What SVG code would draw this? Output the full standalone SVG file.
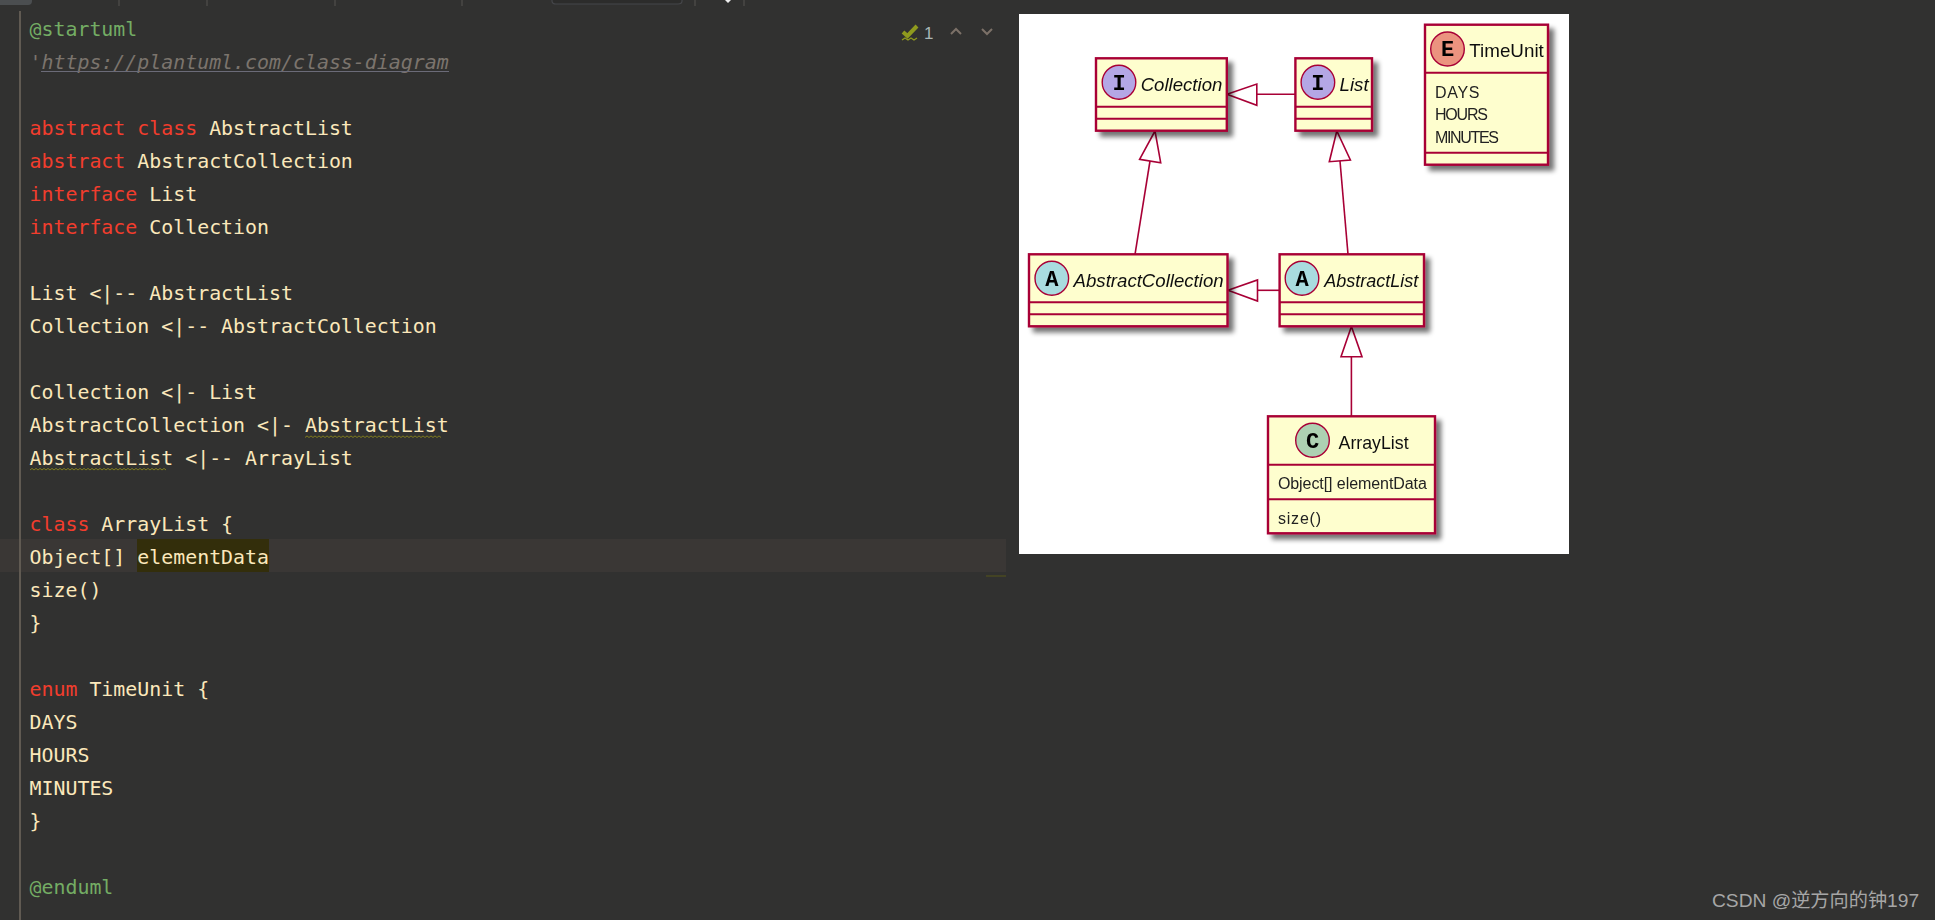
<svg xmlns="http://www.w3.org/2000/svg" width="1935" height="920" viewBox="0 0 1935 920">
<style>
.code{font-family:"DejaVu Sans Mono","Liberation Mono",monospace;font-size:19.9px;fill:#fbe8bb;white-space:pre}
.kw{fill:#f23d2d}
.ann{fill:#74ad64}
.cm{fill:#7b746d;font-style:italic}
.box{fill:#FEFECE;stroke:#A80036;stroke-width:2.4}
.sep{stroke:#A80036;stroke-width:1.9;fill:none}
.edge{stroke:#A80036;stroke-width:1.6;fill:none}
.head{stroke:#A80036;stroke-width:1.6;fill:#fff}
.ic{stroke:#A80036;stroke-width:1.4}
.name{font-family:"Liberation Sans",Arial,sans-serif;font-size:18.6px;fill:#111}
.it{font-style:italic}
.mem{font-family:"Liberation Sans",Arial,sans-serif;font-size:16px;fill:#222}
.let{font-family:"Liberation Mono","Courier New",monospace;font-weight:bold;font-size:22px;fill:#000;text-anchor:middle}
.wave{fill:none;stroke:#7f7c1e;stroke-width:1}
</style>
<defs>
<filter id="shadow" x="-15%" y="-15%" width="135%" height="135%">
<feGaussianBlur in="SourceAlpha" stdDeviation="2.6"/>
<feOffset dx="5" dy="5"/>
<feComponentTransfer><feFuncA type="linear" slope="0.55"/></feComponentTransfer>
<feMerge><feMergeNode/><feMergeNode in="SourceGraphic"/></feMerge>
</filter>
<filter id="soft" filterUnits="userSpaceOnUse" x="1019" y="14" width="550" height="540"><feGaussianBlur stdDeviation="0.6"/></filter>
<path id="w" d="M0 0l2 -1.6 2 1.6 2 -1.6 2 1.6 2 -1.6 2 1.6 2 -1.6 2 1.6 2 -1.6 2 1.6 2 -1.6 2 1.6 2 -1.6 2 1.6 2 -1.6 2 1.6 2 -1.6 2 1.6 2 -1.6 2 1.6 2 -1.6 2 1.6 2 -1.6 2 1.6 2 -1.6 2 1.6 2 -1.6 2 1.6 2 -1.6 2 1.6 2 -1.6 2 1.6 2 -1.6 2 1.6 2 -1.6 2 1.6 2 -1.6 2 1.6 2 -1.6 2 1.6 2 -1.6 2 1.6 2 -1.6 2 1.6 2 -1.6 2 1.6 2 -1.6 2 1.6 2 -1.6 2 1.6 2 -1.6 2 1.6 2 -1.6 2 1.6 2 -1.6 2 1.6 2 -1.6 2 1.6 2 -1.6 2 1.6 2 -1.6 2 1.6 2 -1.6 2 1.6 2 -1.6 2 1.6 2 -1.6 2 1.6"/>
</defs>
<rect width="1935" height="920" fill="#313130"/>
<g id="editor-chrome">
<rect x="-4" y="-6" width="36" height="11" rx="4" fill="#4b4e50"/>
<path d="M119 0V6M207 0V6M335 0V6M462 0V6M695 0V6M744 0V6" stroke="#4a4845" stroke-width="1.5"/>
<path d="M552 -2V1Q552 4 556 4H678Q682 4 682 1V-2" fill="#2c2c2b" stroke="#45464a" stroke-width="1.2"/>
<path d="M725 0H731L728 3Z" fill="#eee"/>
<rect x="0" y="539" width="1006" height="33" fill="#3a3735"/>
<rect x="137" y="539" width="132" height="33" fill="#332e0b"/>
<rect x="19" y="11" width="2" height="909" fill="#605a52"/>
<path d="M986 576H1006" stroke="#4a4a20" stroke-width="1.5"/>
<path d="M903 32L907.5 36L917 26" fill="none" stroke="#8f9a1e" stroke-width="4"/>
<path d="M902 40L905 38L908 40L911 38L914 40L917 38" fill="none" stroke="#8f9a1e" stroke-width="1.3"/>
<text x="924" y="39" font-family="'Liberation Sans',sans-serif" font-size="17" fill="#a9b7b6">1</text>
<path d="M951 34L956 29L961 34M982 29L987 34L992 29" fill="none" stroke="#7c7168" stroke-width="2"/>
</g>
<g id="code">
<text class="code ann" x="29.5" y="36">@startuml</text>
<text class="code cm" x="29.5" y="69">'https://plantuml.com/class-diagram</text>
<path d="M41 71.5H449" stroke="#6b6b78" stroke-width="1.2"/>
<text class="code" x="29.5" y="135"><tspan class="kw">abstract class</tspan> AbstractList</text>
<text class="code" x="29.5" y="168"><tspan class="kw">abstract</tspan> AbstractCollection</text>
<text class="code" x="29.5" y="201"><tspan class="kw">interface</tspan> List</text>
<text class="code" x="29.5" y="234"><tspan class="kw">interface</tspan> Collection</text>
<text class="code" x="29.5" y="300">List &lt;|-- AbstractList</text>
<text class="code" x="29.5" y="333">Collection &lt;|-- AbstractCollection</text>
<text class="code" x="29.5" y="399">Collection &lt;|- List</text>
<text class="code" x="29.5" y="432">AbstractCollection &lt;|- AbstractList</text>
<text class="code" x="29.5" y="465">AbstractList &lt;|-- ArrayList</text>
<use href="#w" class="wave" x="305" y="437.5"/>
<use href="#w" class="wave" x="30" y="470"/>
<text class="code" x="29.5" y="531"><tspan class="kw">class</tspan> ArrayList {</text>
<text class="code" x="29.5" y="564">Object[] elementData</text>
<text class="code" x="29.5" y="597">size()</text>
<text class="code" x="29.5" y="630">}</text>
<text class="code" x="29.5" y="696"><tspan class="kw">enum</tspan> TimeUnit {</text>
<text class="code" x="29.5" y="729">DAYS</text>
<text class="code" x="29.5" y="762">HOURS</text>
<text class="code" x="29.5" y="795">MINUTES</text>
<text class="code" x="29.5" y="828">}</text>
<text class="code ann" x="29.5" y="894">@enduml</text>
</g>
<rect x="1019" y="14" width="550" height="540" fill="#fff"/>
<g filter="url(#soft)">
<g id="connectors">
<path class="edge" d="M1295.4 94.3H1256.8"/>
<path class="head" d="M1227 94.3L1256.8 84V105.3Z"/>
<path class="edge" d="M1280 290.3H1257.5"/>
<path class="head" d="M1228 290.3L1257.5 280V301Z"/>
<path class="edge" d="M1150 161L1135 254.3"/>
<path class="head" d="M1155 131L1139.6 159.3L1160.7 162.7Z"/>
<path class="edge" d="M1340 161L1348 254.3"/>
<path class="head" d="M1336.8 131L1329.3 161.7L1350.4 160Z"/>
<path class="edge" d="M1351.4 356.7V416.3"/>
<path class="head" d="M1351.4 326.5L1341 356.7H1362Z"/>
</g>
<g id="Collection">
<rect class="box" x="1096" y="58.3" width="130.8" height="72.4" filter="url(#shadow)"/>
<path class="sep" d="M1096 106.7H1226.8M1096 118.7H1226.8"/>
<ellipse class="ic" cx="1119" cy="82.3" rx="16.8" ry="17" fill="#B4A7E5"/>
<text class="let" x="1119" y="89.5">I</text>
<text class="name it" x="1140.7" y="91">Collection</text>
</g>
<g id="List">
<rect class="box" x="1295.4" y="58.3" width="76.6" height="72.4" filter="url(#shadow)"/>
<path class="sep" d="M1295.4 106.7H1372M1295.4 118.7H1372"/>
<ellipse class="ic" cx="1317.9" cy="82.3" rx="16.8" ry="17" fill="#B4A7E5"/>
<text class="let" x="1317.9" y="89.5">I</text>
<text class="name it" x="1339.6" y="91" textLength="29" lengthAdjust="spacingAndGlyphs">List</text>
</g>
<g id="TimeUnit">
<rect class="box" x="1425" y="24.7" width="123" height="140" filter="url(#shadow)"/>
<path class="sep" d="M1425 72.7H1548M1425 152.7H1548"/>
<ellipse class="ic" cx="1447.5" cy="49" rx="16.8" ry="17" fill="#EB937F"/>
<text class="let" x="1447.5" y="56">E</text>
<text class="name" x="1469.3" y="57.3" textLength="74.5" lengthAdjust="spacingAndGlyphs">TimeUnit</text>
<text class="mem" x="1435" y="97.7" textLength="44.5">DAYS</text>
<text class="mem" x="1435" y="120.3" textLength="53">HOURS</text>
<text class="mem" x="1435" y="143" textLength="64">MINUTES</text>
</g>
<g id="AbstractCollection">
<rect class="box" x="1029" y="254.3" width="198.5" height="72" filter="url(#shadow)"/>
<path class="sep" d="M1029 302.3H1227.5M1029 314.3H1227.5"/>
<ellipse class="ic" cx="1051.8" cy="278.3" rx="16.8" ry="17" fill="#A9DCDF"/>
<text class="let" x="1051.8" y="285.5">A</text>
<text class="name it" x="1073.6" y="287" textLength="150" lengthAdjust="spacingAndGlyphs">AbstractCollection</text>
</g>
<g id="AbstractList">
<rect class="box" x="1279.6" y="254.3" width="144.4" height="72" filter="url(#shadow)"/>
<path class="sep" d="M1279.6 302.3H1424M1279.6 314.3H1424"/>
<ellipse class="ic" cx="1302" cy="278.3" rx="16.8" ry="17" fill="#A9DCDF"/>
<text class="let" x="1302" y="285.5">A</text>
<text class="name it" x="1324.3" y="287" textLength="94" lengthAdjust="spacingAndGlyphs">AbstractList</text>
</g>
<g id="ArrayList">
<rect class="box" x="1268" y="416.3" width="167" height="117" filter="url(#shadow)"/>
<path class="sep" d="M1268 464.7H1435M1268 499.3H1435"/>
<ellipse class="ic" cx="1312.5" cy="440.3" rx="16.8" ry="17" fill="#ADD1B2"/>
<text class="let" x="1312.5" y="447.5">C</text>
<text class="name" x="1338.6" y="448.7" textLength="70" lengthAdjust="spacingAndGlyphs">ArrayList</text>
<text class="mem" x="1277.9" y="489.3" textLength="149">Object[] elementData</text>
<text class="mem" x="1278" y="524" textLength="43">size()</text>
</g>
</g>
<text id="watermark" x="1712" y="906.7" font-family="'Liberation Sans','Noto Sans CJK SC',sans-serif" font-size="19.2" fill="#a6a6a6">CSDN @逆方向的钟197</text>
</svg>
